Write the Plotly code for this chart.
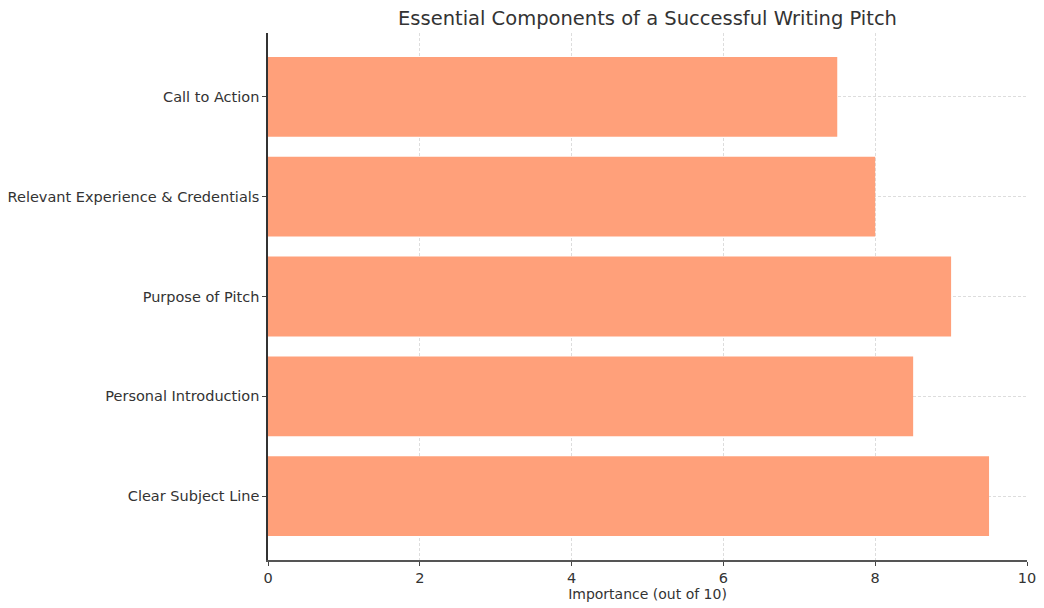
import plotly.graph_objects as go

categories = ["Clear Subject Line", "Personal Introduction", "Purpose of Pitch",
              "Relevant Experience & Credentials", "Call to Action"]
importance = [9.5, 8.5, 9, 8, 7.5]
x_ticks = [0, 2, 4, 6, 8, 10]

fig = go.Figure()
fig.add_trace(go.Bar(
    y=categories, x=importance, orientation="h",
    marker=dict(color="#FFA07A", line=dict(width=0)),
    width=0.8,
))

grid_col = "rgba(180,180,180,0.45)"

# page has an 8px body margin, so the figure is a bit smaller than the window
fig.update_layout(
    width=1036, height=600,
    paper_bgcolor="white", plot_bgcolor="white",
    margin=dict(l=260, r=17, t=25, b=48),
    font=dict(family="DejaVu Sans", size=14.5, color="#333333"),
    title=dict(text="Essential Components of a Successful Writing Pitch",
               x=0.5, xref="paper", xanchor="center", y=0.983, yanchor="middle",
               font=dict(size=19.5, color="#333333")),
    showlegend=False,
    bargap=0.2,
)
fig.update_xaxes(
    range=[0, 10], tickvals=x_ticks, ticks="outside", ticklen=4,
    tickcolor="#444444", showline=True, linecolor="#555555", linewidth=2,
    showgrid=True, gridcolor=grid_col, griddash="3px,2px", gridwidth=1,
    zeroline=False, automargin=False, layer="above traces",
    title=dict(text="Importance (out of 10)", font=dict(size=14), standoff=2),
)
fig.update_yaxes(
    range=[-0.64, 4.64], ticks="outside", ticklen=4, tickcolor="#444444",
    showline=True, linecolor="#333333", linewidth=1.5,
    showgrid=True, gridcolor=grid_col, griddash="3px,2px", gridwidth=1,
    zeroline=False, automargin=False, layer="above traces",
)

fig.write_html("out.html")
